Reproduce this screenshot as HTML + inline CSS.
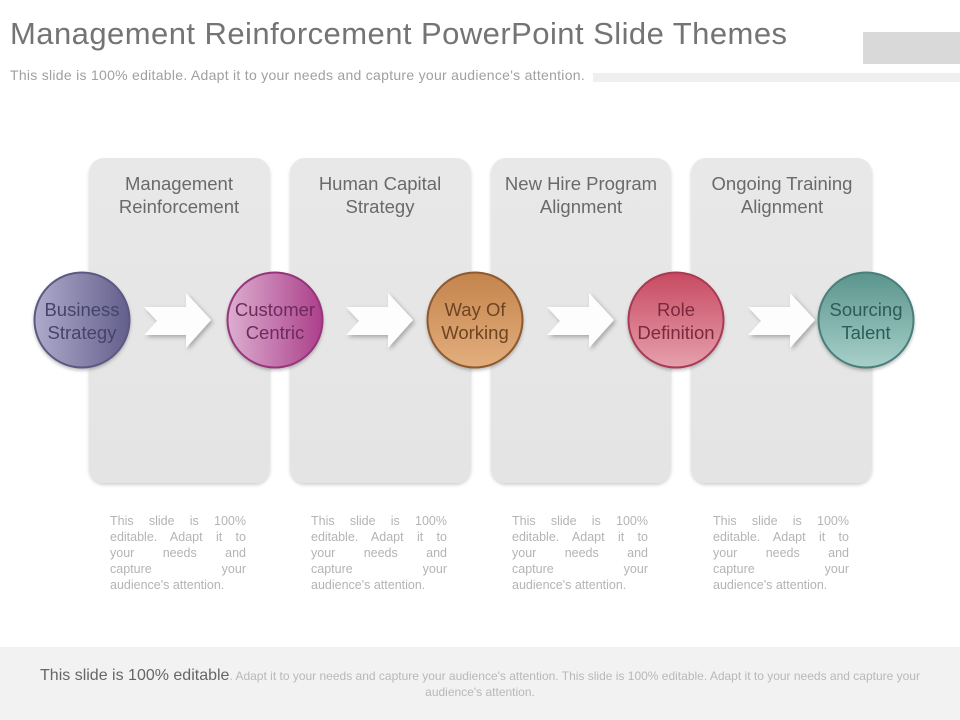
<!DOCTYPE html>
<html><head><meta charset="utf-8"><style>
html,body{margin:0;padding:0;background:#fff;}
body{width:960px;height:720px;overflow:hidden;position:relative;font-family:"Liberation Sans",Arial,sans-serif;}
.t{position:absolute;left:10px;top:16px;font-size:31px;color:#747474;letter-spacing:0.45px;white-space:nowrap;}
.st{position:absolute;left:10px;top:67px;font-size:14px;color:#a0a0a0;white-space:nowrap;letter-spacing:0.28px;}
.body{position:absolute;top:513px;width:136px;font-size:12.5px;line-height:16px;color:#b4b4b4;}
.body div{text-align:justify;text-align-last:justify;height:16px;white-space:nowrap;}
.body div.l{text-align-last:left;}
.foot{position:absolute;left:0;top:647px;width:960px;height:73px;background:#f2f2f2;}
.fl{position:absolute;left:0;top:668px;width:960px;text-align:center;font-size:12px;color:#b8b8b8;line-height:16px;letter-spacing:0;white-space:nowrap;}
.fl b{font-weight:normal;font-size:16px;color:#666;letter-spacing:0;}
</style></head><body>
<div class="t">Management Reinforcement PowerPoint Slide Themes</div>
<div class="st">This slide is 100% editable. Adapt it to your needs and capture your audience's attention.</div>
<div style="position:absolute;left:863px;top:32px;width:97px;height:32px;background:#d9d9d9"></div>
<div style="position:absolute;left:593px;top:73px;width:367px;height:9px;background:#efefef"></div>

<svg style="position:absolute;left:0;top:0" width="960" height="720" xmlns="http://www.w3.org/2000/svg">
<defs>
<linearGradient id="pg" x1="0" y1="0" x2="0" y2="1"><stop offset="0" stop-color="#e8e8e8"/><stop offset="1" stop-color="#e4e4e4"/></linearGradient>
<filter id="ps" x="-10%" y="-10%" width="120%" height="120%"><feDropShadow dx="0" dy="2" stdDeviation="1.5" flood-color="#000" flood-opacity="0.18"/></filter>
<filter id="as" x="-20%" y="-20%" width="150%" height="150%"><feDropShadow dx="2" dy="2" stdDeviation="2" flood-color="#000" flood-opacity="0.28"/></filter>
<filter id="cs" x="-20%" y="-20%" width="140%" height="140%"><feDropShadow dx="0" dy="2" stdDeviation="1.5" flood-color="#000" flood-opacity="0.25"/></filter>
<linearGradient id="g1" x1="0" y1="0" x2="1" y2="0"><stop offset="0" stop-color="#aeaacb"/><stop offset="1" stop-color="#635f8c"/></linearGradient>
<linearGradient id="g2" x1="0" y1="0" x2="1" y2="0"><stop offset="0" stop-color="#dcaed0"/><stop offset="1" stop-color="#ac3f8a"/></linearGradient>
<linearGradient id="g3" x1="0" y1="0" x2="0" y2="1"><stop offset="0" stop-color="#c4844c"/><stop offset="1" stop-color="#e3ae7e"/></linearGradient>
<linearGradient id="g4" x1="0" y1="0" x2="0" y2="1"><stop offset="0" stop-color="#c84a62"/><stop offset="1" stop-color="#e6a0ad"/></linearGradient>
<linearGradient id="g5" x1="0" y1="0" x2="0" y2="1"><stop offset="0" stop-color="#5a958d"/><stop offset="1" stop-color="#a8d0ca"/></linearGradient>
</defs>
<g filter="url(#ps)" fill="url(#pg)">
<rect x="89" y="158" width="181" height="325" rx="15"/>
<rect x="290" y="158" width="181" height="325" rx="15"/>
<rect x="491" y="158" width="180" height="325" rx="15"/>
<rect x="691" y="158" width="181" height="325" rx="15"/>
</g>
<g font-size="18.5" fill="#6a6a6a" text-anchor="middle">
<text x="179" y="190">Management</text><text x="179" y="213">Reinforcement</text>
<text x="380" y="190">Human Capital</text><text x="380" y="213">Strategy</text>
<text x="581" y="190">New Hire Program</text><text x="581" y="213">Alignment</text>
<text x="782" y="190">Ongoing Training</text><text x="782" y="213">Alignment</text>
</g>
<g fill="#fdfdfd" filter="url(#as)">
<polygon points="144,307 186,307 186,293 211,320 186,348 186,335 144,335 157,321"/>
<polygon points="346,307 388,307 388,293 413,320 388,348 388,335 346,335 359,321"/>
<polygon points="547,307 589,307 589,293 614,320 589,348 589,335 547,335 560,321"/>
<polygon points="748,307 790,307 790,293 815,320 790,348 790,335 748,335 761,321"/>
</g>
<g filter="url(#cs)" stroke-width="2">
<circle cx="82" cy="320" r="47.5" fill="url(#g1)" stroke="#5c5882"/>
<circle cx="275" cy="320" r="47.5" fill="url(#g2)" stroke="#963578"/>
<circle cx="475" cy="320" r="47.5" fill="url(#g3)" stroke="#8c5a2e"/>
<circle cx="676" cy="320" r="47.5" fill="url(#g4)" stroke="#a83a52"/>
<circle cx="866" cy="320" r="47.5" fill="url(#g5)" stroke="#4a7f78"/>
</g>
<g font-size="18.5" text-anchor="middle">
<text x="82" y="316" fill="#46436a">Business</text><text x="82" y="339" fill="#46436a">Strategy</text>
<text x="275" y="316" fill="#6e2a5c">Customer</text><text x="275" y="339" fill="#6e2a5c">Centric</text>
<text x="475" y="316" fill="#6e4422">Way Of</text><text x="475" y="339" fill="#6e4422">Working</text>
<text x="676" y="316" fill="#7a2a3c">Role</text><text x="676" y="339" fill="#7a2a3c">Definition</text>
<text x="866" y="316" fill="#2e5c56">Sourcing</text><text x="866" y="339" fill="#2e5c56">Talent</text>
</g>
</svg>

<div class="body" style="left:110px"><div>This slide is 100%</div><div>editable. Adapt it to</div><div>your needs and</div><div>capture your</div><div class="l">audience's attention.</div></div>
<div class="body" style="left:311px"><div>This slide is 100%</div><div>editable. Adapt it to</div><div>your needs and</div><div>capture your</div><div class="l">audience's attention.</div></div>
<div class="body" style="left:512px"><div>This slide is 100%</div><div>editable. Adapt it to</div><div>your needs and</div><div>capture your</div><div class="l">audience's attention.</div></div>
<div class="body" style="left:713px"><div>This slide is 100%</div><div>editable. Adapt it to</div><div>your needs and</div><div>capture your</div><div class="l">audience's attention.</div></div>

<div class="foot"></div>
<div class="fl"><b>This slide is 100% editable</b>. Adapt it to your needs and capture your audience's attention. This slide is 100% editable. Adapt it to your needs and capture your<br>audience's attention.</div>
</body></html>
